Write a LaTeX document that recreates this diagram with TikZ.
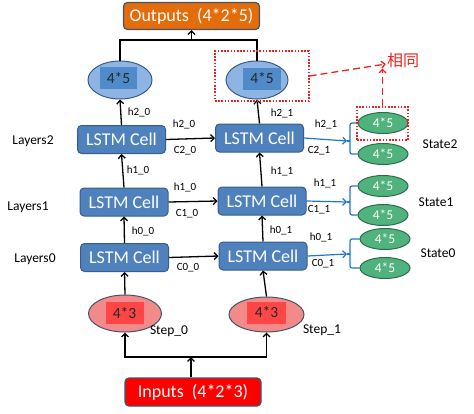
\documentclass[tikz,border=0pt]{standalone}
\usepackage{fontspec}
\setmainfont{Carlito}
\newfontfamily\cjk{Noto Sans CJK SC}
\usetikzlibrary{arrows.meta,shapes.geometric}
\definecolor{outorange}{HTML}{E46C0A}
\definecolor{cellblue}{HTML}{4F81BD}
\definecolor{cellborder}{HTML}{385D8A}
\definecolor{lightblue}{HTML}{8EB4E3}
\definecolor{midblue}{HTML}{4F8BC9}
\definecolor{stategreen}{HTML}{50B27C}
\definecolor{greenborder}{HTML}{2F6B4F}
\definecolor{salmon}{HTML}{F28A8A}
\definecolor{redrect}{HTML}{FF4646}
\definecolor{darkslate}{HTML}{44546A}
\definecolor{linkblue}{HTML}{1F77C8}
\definecolor{hlred}{HTML}{F02020}
\tikzset{
  arr/.style={-{Straight Barb[length=3.5pt,width=7pt]}},
  conn/.style={line width=1.3pt, black},
  bconn/.style={line width=1.2pt, linkblue},
  cell/.style={draw=cellborder, line width=1pt, fill=cellblue, rounded corners=4pt,
    minimum width=88pt, minimum height=28pt, inner sep=0pt, text=white, font=\fontsize{18}{18}\selectfont},
  bigbox/.style={draw=darkslate, line width=1.2pt, rounded corners=4pt,
    minimum width=136pt, minimum height=27pt, inner sep=0pt, text=white, font=\fontsize{18}{18}\selectfont},
  outell/.style={ellipse, draw=cellborder, line width=1pt, fill=lightblue, minimum width=64pt, minimum height=38pt, inner sep=0pt},
  outrect/.style={fill=midblue, minimum width=37pt, minimum height=22pt, inner sep=0pt, text=black!85, font=\fontsize{15.5}{15.5}\selectfont},
  inell/.style={ellipse, draw=darkslate, line width=1pt, fill=salmon, minimum width=73pt, minimum height=37pt, inner sep=0pt},
  inrect/.style={fill=redrect, minimum width=38pt, minimum height=22pt, inner sep=0pt, text=black!85, font=\fontsize{15.5}{15.5}\selectfont},
  stell/.style={ellipse, draw=greenborder, line width=1pt, fill=stategreen, minimum width=50pt, minimum height=21pt, inner sep=0pt, text=white, font=\fontsize{13.5}{13.5}\selectfont},
  small/.style={font=\fontsize{11}{11}\selectfont, inner sep=0pt},
  side/.style={font=\fontsize{13.5}{13.5}\selectfont, inner sep=0pt},
  hlbox/.style={color=hlred, draw=hlred, dash pattern=on 1.6pt off 1.6pt, line width=1.2pt, inner sep=0pt},
  hldash/.style={draw=hlred, dash pattern=on 7pt off 4pt, line width=1.3pt},
}
\begin{document}
\begin{tikzpicture}[x=1pt,y=-1pt]
\useasboundingbox (0,0) rectangle (474,413);
% outputs
\node[bigbox, fill=outorange] (out) at (191.5,16) {Outputs\ \ (4*2*5)};
\coordinate (topj) at (191.5,40);
% top ellipses
\node[outell] (eo0) at (120,80) {};
\node[outrect] (eo0r) at (118.5,78) {4*5};
\node[outell, minimum width=62pt] (eo1) at (257,80) {};
\node[outrect, minimum width=38pt] (eo1r) at (262,78.5) {4*5};
\draw[conn] (eo0.north) -- (eo0.north |- topj) -- (eo1.north |- topj) -- (eo1.north);
\draw[conn, arr] (topj) -- (out.south);
% LSTM cells
\node[cell] (l2) at (121.5,139.5) {LSTM Cell};
\node[cell] (l1) at (124,202) {LSTM Cell};
\node[cell] (l0) at (124.5,257.5) {LSTM Cell};
\node[cell] (r2) at (259.5,138) {LSTM Cell};
\node[cell] (r1) at (262,201) {LSTM Cell};
\node[cell] (r0) at (263,256) {LSTM Cell};
% vertical arrows
\draw[conn, arr] (l2.north) -- (eo0.south);
\draw[conn, arr] (l1.north) -- (l2.south);
\draw[conn, arr] (l0.north) -- (l1.south);
\draw[conn, arr] (r2.north) -- (eo1.south);
\draw[conn, arr] (r1.north) -- (r2.south);
\draw[conn, arr] (r0.north) -- (r1.south);
% horizontal arrows
\draw[conn, arr] (l2.east) -- (r2.west);
\draw[conn, arr] (l1.east) -- (r1.west);
\draw[conn, arr] (l0.east) -- (r0.west);
% small labels
\node[small] (lh20v) at (139,112) {h2\_0};
\node[small] (lh20h) at (184,124) {h2\_0};
\node[small] (lc20) at (185,151) {C2\_0};
\node[small] (lh10v) at (138,170) {h1\_0};
\node[small] (lh10h) at (185,187) {h1\_0};
\node[small] (lc10) at (187,214) {C1\_0};
\node[small] (lh00v) at (143,231) {h0\_0};
\node[small] (lc00) at (188,268) {C0\_0};
\node[small] (lh21v) at (282,113) {h2\_1};
\node[small] (lh21h) at (326,124) {h2\_1};
\node[small] (lc21) at (319,151) {C2\_1};
\node[small] (lh11v) at (282,171) {h1\_1};
\node[small] (lh11h) at (325,183) {h1\_1};
\node[small] (lc11) at (319,210) {C1\_1};
\node[small] (lh01v) at (281,230) {h0\_1};
\node[small] (lh01h) at (321,237) {h0\_1};
\node[small] (lc01) at (323,264) {C0\_1};
% side labels
\node[side] (ly2) at (33,141) {Layers2};
\node[side] (ly1) at (28,207) {Layers1};
\node[side] (ly0) at (35,259) {Layers0};
\node[side] (st2) at (440,144) {State2};
\node[side] (st1) at (436,202) {State1};
\node[side] (st0) at (438,253) {State0};
% state ellipses
\node[stell] (g2a) at (383,123) {4*5};
\node[stell] (g2b) at (383,154) {4*5};
\node[stell] (g1a) at (383,186) {4*5};
\node[stell] (g1b) at (383,215) {4*5};
\node[stell] (g0a) at (385,239) {4*5};
\node[stell] (g0b) at (385,268) {4*5};
\coordinate (b2) at (347,141);
\coordinate (b1) at (347,202);
\coordinate (b0) at (347,254);
\foreach \i in {2,1,0}{
  \draw[bconn, arr] (r\i.east) -- (b\i);
  \draw[bconn, rounded corners=2pt] (g\i a.west) -| ([xshift=3pt]b\i) |- (g\i b.west);
  \draw[bconn] (b\i) -- ([xshift=3pt]b\i);
}
% highlight
\node[hlbox, minimum width=94pt, minimum height=50pt] (hl1) at (262,76) {};
\node[hlbox, minimum width=51pt, minimum height=33pt] (hl2) at (382.5,123.5) {};
\node[inner sep=1pt, text=hlred, font=\cjk\fontsize{16}{16}\selectfont] (sm) at (403,60) {相同};
\draw[hldash, arr] (hl1.east) -- ([yshift=-4pt]sm.west);
\draw[hldash, arr] (hl2.north) -- (hl2.north |- sm.south);
% inputs
\node[inell] (s0) at (125,313.5) {};
\node[inrect] (s0r) at (124.5,313) {4*3};
\node[inell, minimum width=75pt, minimum height=35pt] (s1) at (266.5,314.5) {};
\node[inrect, minimum width=39pt] (s1r) at (266.5,312.5) {4*3};
\node[side] (sl0) at (169,331) {Step\_0};
\node[side] (sl1) at (322,330) {Step\_1};
\draw[conn, arr] (s0.north) -- (l0.south);
\draw[conn, arr] (s1.north) -- (r0.south);
\node[bigbox, fill=red, minimum height=28pt] (inp) at (193,392) {Inputs\ \ (4*2*3)};
\coordinate (botj) at (191,357);
\draw[conn, arr] (inp.north -| botj) -- (botj);
\draw[conn, arr] (botj) -- (botj -| s0.south) -- (s0.south);
\draw[conn, arr] (botj) -- (botj -| s1.south) -- (s1.south);
\end{tikzpicture}
\end{document}
